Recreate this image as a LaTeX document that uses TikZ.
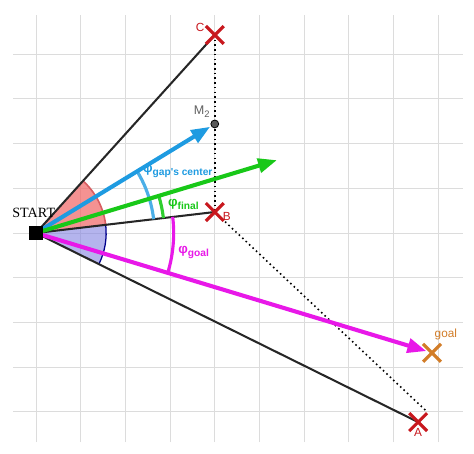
\documentclass[tikz,border=0pt]{standalone}
\usepackage{fontspec}
\setmainfont{Liberation Serif}
\newfontfamily\lblfont{Liberation Sans}
\usepackage{xcolor}
\usepackage{tikz}
\usetikzlibrary{arrows.meta,shapes.misc}
\definecolor{gridgray}{RGB}{220,220,220}
\definecolor{xred}{RGB}{200,24,30}
\definecolor{gapblue}{RGB}{30,155,225}
\definecolor{finalgreen}{RGB}{24,200,24}
\definecolor{goalmag}{RGB}{232,24,232}
\definecolor{goalorange}{RGB}{210,125,40}
\definecolor{secred}{RGB}{240,100,100}
\definecolor{secblue}{RGB}{130,130,225}
\newcommand{\lsub}[1]{\raisebox{-2pt}{\fontsize{6.5}{7}\selectfont #1}}

\begin{document}
\begin{tikzpicture}[x=1cm,y=1cm]
	\tikzstyle{gl} = [draw,line width=0.6pt,color=gridgray];
	\tikzstyle{ray} = [draw,line width=1.3pt,color=black!85];
	\tikzstyle{dl} = [draw,line width=1pt,dotted];
	\tikzstyle{xm} = [cross out,draw=xred,line width=2pt,minimum size=0.33cm,inner sep=0pt];
	\tikzstyle{ar} = [line width=2.6pt,-{Triangle[length=12pt,width=9pt]}];
	\tikzstyle{ang} = [line width=2pt];
	\tikzstyle{tx} = [font=\lblfont\fontsize{7.5}{8}\selectfont,inner sep=0pt];
	\tikzstyle{phi} = [font=\lblfont\bfseries\fontsize{8.5}{9}\selectfont,inner sep=0pt,anchor=west];
	% points
	\coordinate (S) at (0,0);
	\coordinate (C) at (4,4.43);
	\coordinate (M) at (4,2.44);
	\coordinate (B) at (4,0.47);
	\coordinate (A) at (8.55,-4.23);
	\coordinate (G) at (8.86,-2.68);
	\coordinate (Ad) at (8.75,-4.0);
	\coordinate (T) at (5.39,1.63);
	\useasboundingbox [fill=white] (-0.805,-4.922) rectangle (9.799,5.213);
	% grid
	\foreach \i in {0,...,9} \draw [gl] (\i,-4.68) -- (\i,4.88);
	\foreach \j in {-4,...,4} \draw [gl] (-0.51,\j) -- (9.55,\j);
	% sectors
	\path [fill=secred,opacity=0.7] (S) -- ++(6.7:1.57) arc [start angle=6.7,end angle=47.9,radius=1.57] -- cycle;
	\path [fill=secblue,opacity=0.6] (S) -- ++(-26.3:1.57) arc [start angle=-26.3,end angle=6.7,radius=1.57] -- cycle;
	\draw [xred!70,line width=1pt] (S) ++(6.7:1.57) arc [start angle=6.7,end angle=47.9,radius=1.57];
	\draw [blue!55!black,line width=0.8pt] (S) ++(-26.3:1.57) arc [start angle=-26.3,end angle=6.7,radius=1.57];
	% rays
	\draw [ray] (S) -- (C);
	\draw [ray] (S) -- (B);
	\draw [ray] (S) -- (A);
	\draw [dl] (C) -- (B);
	\draw [dl] (B) -- (Ad);
	% angles
	\draw [ang,gapblue!80] (S) ++(6.7:2.65) arc [start angle=6.7,end angle=31.4,radius=2.65];
	\draw [ang,finalgreen!90] (S) ++(6.7:2.87) arc [start angle=6.7,end angle=16.8,radius=2.87];
	\draw [ang,goalmag] (S) ++(6.7:3.08) arc [start angle=6.7,end angle=-16.8,radius=3.08];
	% arrows
	\draw [ar,gapblue,shorten >=3.5pt] (S) -- (M);
	\draw [ar,finalgreen] (S) -- (T);
	\draw [ar,goalmag,shorten >=3.8pt] (S) -- (G);
	% marks
	\node (start) at (S) [fill=black,minimum size=0.33cm,inner sep=0pt] {};
	\node (mC) at (C) [xm] {};
	\node (mB) at (B) [xm] {};
	\node (mA) at (A) [xm] {};
	\node (mG) at (G) [xm,draw=goalorange] {};
	\node (mM) at (M) [circle,fill=gray!70!black,draw=black,line width=0.5pt,inner sep=0pt,minimum size=5pt] {};
	% labels
	\node (lS) at (-0.05,0.45) [font=\fontsize{9}{10}\selectfont,inner sep=0pt] {START};
	\node (lC) at (3.67,4.59) [tx,xred] {C};
	\node (lM) at (3.71,2.71) [tx,gray!75!black,font=\lblfont\fontsize{8}{9}\selectfont] {M\raisebox{-2pt}{\fontsize{6}{7}\selectfont 2}};
	\node (lB) at (4.27,0.38) [tx,xred] {B};
	\node (lA) at (8.55,-4.47) [tx,xred] {A};
	\node (lG) at (9.17,-2.28) [tx,goalorange] {goal};
	\node (lgap) at (2.39,1.37) [phi,gapblue] {φ\lsub{gap's center}};
	\node (lfin) at (2.95,0.63) [phi,finalgreen] {φ\lsub{final}};
	\node (lgoal) at (3.18,-0.43) [phi,goalmag] {φ\lsub{goal}};
\end{tikzpicture}
\end{document}
